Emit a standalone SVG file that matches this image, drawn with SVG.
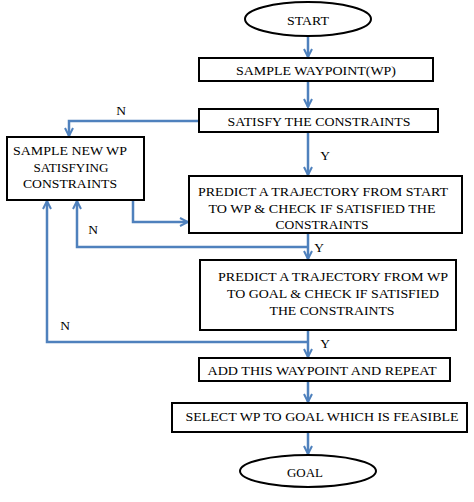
<svg xmlns="http://www.w3.org/2000/svg" width="474" height="502" viewBox="0 0 474 502">
<defs>
<marker id="arr" viewBox="0 0 10 10" refX="9" refY="5" markerWidth="4" markerHeight="4" orient="auto" markerUnits="strokeWidth">
<path d="M1,1 L9,5 L1,9" fill="none" stroke="#4f81bd" stroke-width="2"/>
</marker>
</defs>
<style>
.box{fill:#fff;stroke:#000;stroke-width:2}
.t{font-family:'Liberation Serif',serif;font-size:13.5px;fill:#000;text-anchor:middle}
.c{fill:none;stroke:#4f81bd;stroke-width:2.5}
.a{marker-end:url(#arr)}
</style>
<rect width="474" height="502" fill="#fff"/>
<g id="connectors">
<path class="c a" d="M308,36 V57"/>
<path class="c a" d="M308,81 V107"/>
<path class="c a" d="M199,121 H69 V136"/>
<path class="c a" d="M308,132 V175"/>
<path class="c" d="M117,199 H133"/>
<path class="c a" d="M133,199 V222 H188"/>
<path class="c a" d="M308,233 V259"/>
<path class="c a" d="M308,247 H77 V201"/>
<path class="c a" d="M308,330 V357"/>
<path class="c a" d="M308,342 H47 V201"/>
<path class="c a" d="M308,381 V402"/>
<path class="c a" d="M308,432 V454"/>
<text class="t" x="121" y="115">N</text>
<text class="t" x="325" y="160">Y</text>
<text class="t" x="93" y="234">N</text>
<text class="t" x="319" y="252">Y</text>
<text class="t" x="65" y="330">N</text>
<text class="t" x="325" y="348">Y</text>
</g>
<g id="start">
<ellipse class="box" cx="308" cy="19" rx="63" ry="17"/>
<text class="t" x="308" y="25" textLength="42" lengthAdjust="spacingAndGlyphs">START</text>
</g>
<g id="sample-wp">
<rect class="box" x="199" y="58" width="234" height="23"/>
<text class="t" x="316" y="75" textLength="160" lengthAdjust="spacingAndGlyphs">SAMPLE WAYPOINT(WP)</text>
</g>
<g id="satisfy">
<rect class="box" x="199" y="109" width="239" height="23"/>
<text class="t" x="319" y="126" textLength="183" lengthAdjust="spacingAndGlyphs">SATISFY THE CONSTRAINTS</text>
</g>
<g id="sample-new">
<rect class="box" x="7" y="137" width="137" height="63"/>
<text class="t" x="70" y="155" textLength="114" lengthAdjust="spacingAndGlyphs">SAMPLE NEW WP</text>
<text class="t" x="71" y="172" textLength="75" lengthAdjust="spacingAndGlyphs">SATISFYING</text>
<text class="t" x="70" y="188" textLength="94" lengthAdjust="spacingAndGlyphs">CONSTRAINTS</text>
</g>
<g id="predict-start">
<rect class="box" x="189" y="176" width="273" height="57"/>
<text class="t" x="323" y="196" textLength="250" lengthAdjust="spacingAndGlyphs">PREDICT A TRAJECTORY FROM START</text>
<text class="t" x="322" y="213" textLength="227" lengthAdjust="spacingAndGlyphs">TO WP &amp; CHECK IF SATISFIED THE</text>
<text class="t" x="322" y="229" textLength="93" lengthAdjust="spacingAndGlyphs">CONSTRAINTS</text>
</g>
<g id="predict-goal">
<rect class="box" x="200" y="260" width="256" height="70"/>
<text class="t" x="333" y="281" textLength="230" lengthAdjust="spacingAndGlyphs">PREDICT A TRAJECTORY FROM WP</text>
<text class="t" x="333" y="298" textLength="212" lengthAdjust="spacingAndGlyphs">TO GOAL &amp; CHECK IF SATISFIED</text>
<text class="t" x="332" y="315" textLength="125" lengthAdjust="spacingAndGlyphs">THE CONSTRAINTS</text>
</g>
<g id="add">
<rect class="box" x="199" y="358" width="251" height="23"/>
<text class="t" x="322" y="375" textLength="229" lengthAdjust="spacingAndGlyphs">ADD THIS WAYPOINT AND REPEAT</text>
</g>
<g id="select">
<rect class="box" x="172" y="403" width="295" height="29"/>
<text class="t" x="322" y="421" textLength="273" lengthAdjust="spacingAndGlyphs">SELECT WP TO GOAL WHICH IS FEASIBLE</text>
</g>
<g id="goal">
<ellipse class="box" cx="308" cy="471" rx="68" ry="16"/>
<text class="t" x="305" y="477" textLength="36" lengthAdjust="spacingAndGlyphs">GOAL</text>
</g>
</svg>
